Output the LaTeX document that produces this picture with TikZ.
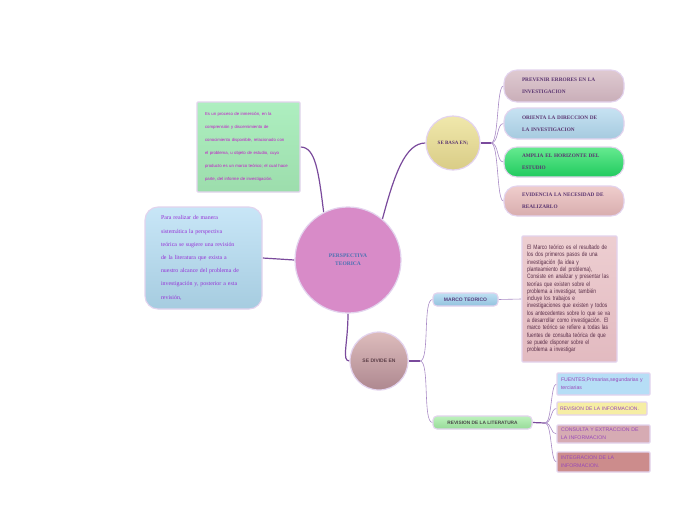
\documentclass[tikz,border=0pt]{standalone}
\usepackage{fontspec}
\setmainfont{Liberation Serif}
\setsansfont{Liberation Sans}
\newfontfamily\narrowsans[FakeStretch=0.78]{Liberation Sans}
\usetikzlibrary{backgrounds}
\definecolor{conMain}{HTML}{7A4A9C}
\definecolor{conThin}{HTML}{A98BC6}
\definecolor{bord}{HTML}{E3D3EE}
\definecolor{txtMag}{HTML}{C218C9}
\definecolor{txtLeft}{HTML}{9530D6}
\definecolor{txtMain}{HTML}{4A72B2}
\definecolor{txtDark}{HTML}{5A3470}
\definecolor{txtDiv}{HTML}{5E4049}
\definecolor{txtMt}{HTML}{5A4080}
\definecolor{txtMbox}{HTML}{5A2E48}
\definecolor{txtRev}{HTML}{4A4A4A}
\definecolor{txtR}{HTML}{9848B8}
\definecolor{cMain}{HTML}{D88BC8}
\definecolor{cBasaT}{HTML}{F0E8AC}\definecolor{cBasaB}{HTML}{D9CC86}
\definecolor{cDivT}{HTML}{DDBCBC}\definecolor{cDivB}{HTML}{AE8890}
\definecolor{cGreenT}{HTML}{AEEFC0}\definecolor{cGreenB}{HTML}{9CDDAC}
\definecolor{cLeftT}{HTML}{C8E6F7}\definecolor{cLeftB}{HTML}{A6CCE0}
\definecolor{cB1T}{HTML}{DFCAD1}\definecolor{cB1B}{HTML}{C9AEB8}
\definecolor{cB2T}{HTML}{C6E2F2}\definecolor{cB2B}{HTML}{A6CADF}
\definecolor{cB3T}{HTML}{66EA90}\definecolor{cB3B}{HTML}{20CA5E}
\definecolor{cB4T}{HTML}{EFCDCC}\definecolor{cB4B}{HTML}{D8ADAE}
\definecolor{cMtT}{HTML}{BEE0F3}\definecolor{cMtB}{HTML}{92C2DE}
\definecolor{cMbT}{HTML}{EDCED1}\definecolor{cMbB}{HTML}{E2BAC0}
\definecolor{cRevT}{HTML}{BDF2BD}\definecolor{cRevB}{HTML}{96DA98}
\definecolor{cR1}{HTML}{B6DEF6}
\definecolor{cR2}{HTML}{F6EEA4}
\definecolor{cR3}{HTML}{D6ABB3}
\definecolor{cR4}{HTML}{CC8C8C}
\tikzset{
  boxbase/.style={draw=bord, line width=1.1pt, inner ysep=0pt, align=left, anchor=center},
  conmain/.style={draw=conMain, line width=1.2pt},
  conthin/.style={draw=conThin, line width=0.6pt},
  bigcirc/.style={circle, draw=bord, line width=1.2pt, inner sep=0pt, align=center},
  topbox/.style={boxbase, rounded corners=13pt, minimum width=120pt, inner xsep=18pt, text width=84pt,
     font=\rmfamily\bfseries\fontsize{5.3}{12}\selectfont, text=txtDark},
  smallbox/.style={boxbase, rounded corners=1pt, minimum width=93pt, inner xsep=4pt, text width=85pt,
     font=\sffamily\fontsize{5.2}{8}\selectfont, text=txtR},
  pillbox/.style={boxbase, rounded corners=4pt, inner xsep=0pt, align=center},
}
\begin{document}
\begin{tikzpicture}[x=1pt,y=-1pt]
\useasboundingbox (0,0) rectangle (697,520);

% central
\node[bigcirc, fill=cMain, minimum size=106pt, font=\rmfamily\bfseries\fontsize{5.5}{8}\selectfont, text=txtMain] (main) at (348,260) {PERSPECTIVA\\TEORICA};

\node[bigcirc, minimum size=54pt, top color=cBasaT, bottom color=cBasaB,
  font=\rmfamily\bfseries\fontsize{5}{7}\selectfont, text=txtDark] (basa) at (453,143) {SE BASA EN;};
\node[bigcirc, minimum size=58pt, top color=cDivT, bottom color=cDivB,
  font=\sffamily\bfseries\fontsize{5}{7}\selectfont, text=txtDiv] (divide) at (379,361) {SE DIVIDE EN};

% left boxes
\node[boxbase, rounded corners=1pt, minimum height=90pt, inner xsep=8pt, text width=87pt,
  top color=cGreenT, bottom color=cGreenB,
  font=\sffamily\fontsize{4.3}{13}\selectfont, text=txtMag] (green) at (248.5,147)
  {Es un proceso de inmersión, en la\\comprensión y discernimiento de\\conocimiento disponible, relacionado con\\el problema, u objeto de estudio, cuyo\\producto es un marco teórico; el cual hace\\parte, del informe de investigación.};

\node[boxbase, rounded corners=13pt, minimum height=102pt, inner xsep=16pt, text width=85pt,
  top color=cLeftT, bottom color=cLeftB,
  font=\rmfamily\fontsize{5.9}{13.2}\selectfont, text=txtLeft] (left) at (203.5,258)
  {Para realizar de manera\\sistemática la perspectiva\\teórica se sugiere una revisión\\de la literatura que exista a\\nuestro alcance del problema de\\investigación y, posterior a esta\\revisión,};

% top right boxes
\node[topbox, minimum height=32pt, top color=cB1T, bottom color=cB1B] (b1) at (564,86) {PREVENIR ERRORES EN LA\\INVESTIGACION};
\node[topbox, minimum height=31pt, top color=cB2T, bottom color=cB2B] (b2) at (564,123.5) {ORIENTA LA DIRECCION DE\\LA INVESTIGACION};
\node[topbox, minimum height=30pt, top color=cB3T, bottom color=cB3B] (b3) at (564,162) {AMPLIA EL HORIZONTE DEL\\ESTUDIO};
\node[topbox, minimum height=30pt, top color=cB4T, bottom color=cB4B] (b4) at (564,201) {EVIDENCIA LA NECESIDAD DE\\REALIZARLO};

% marco teorico
\node[pillbox, minimum width=65pt, minimum height=13pt, top color=cMtT, bottom color=cMtB,
  font=\sffamily\bfseries\fontsize{5}{6}\selectfont, text=txtMt] (mt) at (465.5,299.5) {MARCO TEORICO};
\node[boxbase, rounded corners=1pt, minimum height=126pt, inner xsep=5pt, text width=85pt,
  top color=cMbT, bottom color=cMbB,
  font=\narrowsans\fontsize{6.3}{7.3}\selectfont, text=txtMbox] (mbox) at (569.5,299)
  {El Marco teórico es el resultado de\\los dos primeros pasos de una\\investigación (la idea y\\planteamiento del problema),\\Consiste en analizar y presentar las\\teorías que existen sobre el\\problema a investigar, también\\incluye los trabajos e\\investigaciones que existen y todos\\los antecedentes sobre lo que se va\\a desarrollar como investigación. El\\marco teórico se refiere a todas las\\fuentes de consulta teórica de que\\se puede disponer sobre el\\problema a investigar};

% revision
\node[pillbox, minimum width=99pt, minimum height=13pt, top color=cRevT, bottom color=cRevB,
  font=\sffamily\bfseries\fontsize{4.8}{6}\selectfont, text=txtRev] (rev) at (482.5,422.5) {REVISION DE LA LITERATURA};

\node[smallbox, minimum height=22pt, fill=cR1] (r1) at (603.5,384) {FUENTES;Primarias,segundarias y\\terciarias};
\node[smallbox, minimum height=13pt, minimum width=90pt, inner xsep=3pt, text width=84pt, fill=cR2,
  font=\sffamily\fontsize{5}{8}\selectfont] (r2) at (602,408.5) {\mbox{REVISION DE LA INFORMACION.}};
\node[smallbox, minimum height=18pt, fill=cR3] (r3) at (603.5,434) {CONSULTA Y EXTRACCION DE\\LA INFORMACION};
\node[smallbox, minimum height=20pt, fill=cR4] (r4) at (603.5,462) {INTEGRACION DE LA\\INFORMACION.};

\coordinate (bb) at (491,143);
\coordinate (db) at (420,361);
\coordinate (rb) at (545,423);

\begin{scope}[on background layer]
\fill[white] (0,0) rectangle (697,520);
\draw[conmain] (main.117) .. controls +(-5,-40) and +(15,0) .. (green.east);
\draw[conmain] (main.50) .. controls +(12,-45) and +(-20,0) .. (basa.west);
\draw[conmain] (main.west) -- (left.east);
\draw[conmain] (main.south) .. controls +(0,30) and +(-8,0) .. (divide.west);
\draw[conmain] (basa.east) -- (bb);
\foreach \b in {b1,b2,b3,b4}
  \draw[conthin] (bb) .. controls +(8,0) and +(-7,0) .. (\b.west);
\draw[conmain] (divide.east) -- (db);
\draw[conthin] (db) .. controls +(10,0) and +(-10,0) .. (mt.west);
\draw[conthin] (db) .. controls +(10,0) and +(-10,0) .. (rev.west);
\draw[conthin] (mt.east) -- (mbox.west);
\draw[conmain] (rev.east) -- (rb);
\foreach \r in {r1,r2,r3,r4}
  \draw[conthin] (rb) .. controls +(7,0) and +(-6,0) .. (\r.west);
\end{scope}
\end{tikzpicture}
\end{document}
